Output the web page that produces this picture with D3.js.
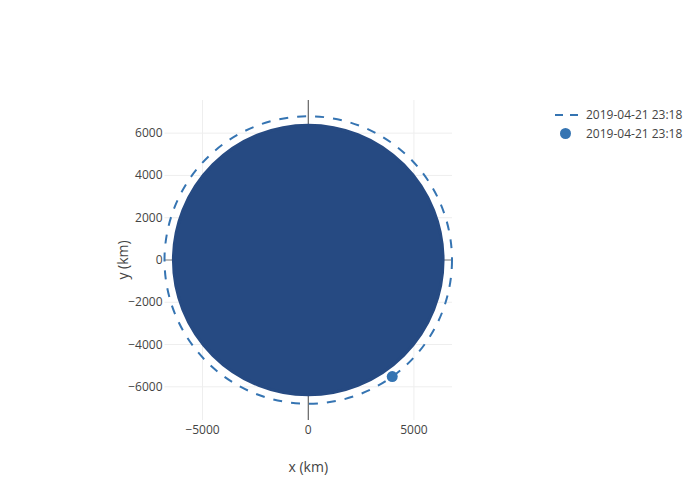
<!DOCTYPE html>
<html>
<head>
<meta charset="utf-8">
<script src="https://cdn.jsdelivr.net/npm/d3@7"></script>
<style>
  body { margin: 0; background: #fff; }
  text { font-family: "Open Sans", sans-serif; fill: #444; }
</style>
</head>
<body>
<div id="chart"></div>
<script>
// valores (km)
const xTicks = [-5000, 0, 5000];
const yTicks = [-6000, -4000, -2000, 0, 2000, 4000, 6000];
const corpoNome = ["Earth"];
const corpoRaio = [6378];
const orbitaLabel = ["2019-04-21 23:18"];
const orbitaRaio = [6800];
const pontoLabel = ["2019-04-21 23:18"];
const pontoX = [3973];
const pontoY = [-5512];

const largura = 700, altura = 500;
const margem = { left: 164.5, top: 100 };
const plotW = 287.5, plotH = 320;

const azul = "#3574b2";
const terra = "#264a82";

const svg = d3.select("#chart").append("svg")
  .attr("width", largura)
  .attr("height", altura);

// escala x cobre exatamente a orbita, y usa a mesma razao km/px
const rMax = d3.max(orbitaRaio);
const x = d3.scaleLinear().domain([-rMax, rMax]).range([margem.left, margem.left + plotW]);
const kmPorPx = (2 * rMax) / plotW;
const yMeio = plotH / 2 * kmPorPx;
const y = d3.scaleLinear().domain([-yMeio, yMeio]).range([margem.top + plotH, margem.top]);

const fmt = v => (v < 0 ? "\u2212" : "") + Math.abs(v);

// grade
const grade = svg.append("g");
grade.selectAll(".gx").data(xTicks.filter(d => d != 0)).enter()
  .append("line")
  .attr("x1", d => x(d)).attr("x2", d => x(d))
  .attr("y1", margem.top).attr("y2", margem.top + plotH)
  .attr("stroke", "#eee").attr("stroke-width", 1);
grade.selectAll(".gy").data(yTicks.filter(d => d != 0)).enter()
  .append("line")
  .attr("x1", margem.left).attr("x2", margem.left + plotW)
  .attr("y1", d => y(d)).attr("y2", d => y(d))
  .attr("stroke", "#eee").attr("stroke-width", 1);

// linhas de zero
svg.append("line")
  .attr("x1", margem.left).attr("x2", margem.left + plotW)
  .attr("y1", y(0)).attr("y2", y(0))
  .attr("stroke", "#777").attr("stroke-width", 1);
svg.append("line")
  .attr("x1", x(0)).attr("x2", x(0))
  .attr("y1", margem.top).attr("y2", margem.top + plotH)
  .attr("stroke", "#444").attr("stroke-width", 1);

// corpo central (com borda da mesma cor)
svg.selectAll(".corpo").data(corpoRaio).enter()
  .append("circle")
  .attr("cx", x(0)).attr("cy", y(0))
  .attr("r", d => x(d) - x(0))
  .attr("fill", terra)
  .attr("stroke", terra)
  .attr("stroke-width", 3);

// orbita tracejada
svg.selectAll(".orbita").data(orbitaRaio).enter()
  .append("circle")
  .attr("cx", x(0)).attr("cy", y(0))
  .attr("r", d => x(d) - x(0))
  .attr("fill", "none")
  .attr("stroke", azul)
  .attr("stroke-width", 2)
  .attr("stroke-dasharray", "9,9");

// posicao atual
svg.selectAll(".ponto").data(pontoX).enter()
  .append("circle")
  .attr("cx", d => x(d))
  .attr("cy", (d, i) => y(pontoY[i]))
  .attr("r", 5.5)
  .attr("fill", azul);

// rotulos dos eixos
svg.selectAll(".tx").data(xTicks).enter()
  .append("text")
  .attr("x", d => x(d))
  .attr("y", 434)
  .attr("text-anchor", "middle")
  .style("font-size", "12px")
  .text(fmt);
svg.selectAll(".ty").data(yTicks).enter()
  .append("text")
  .attr("x", margem.left - 2)
  .attr("y", d => y(d) + 4)
  .attr("text-anchor", "end")
  .style("font-size", "12px")
  .text(fmt);

svg.append("text")
  .attr("x", x(0))
  .attr("y", 472)
  .attr("text-anchor", "middle")
  .style("font-size", "14px")
  .text("x (km)");
svg.append("text")
  .attr("transform", "translate(128," + y(0) + ") rotate(-90)")
  .attr("text-anchor", "middle")
  .style("font-size", "14px")
  .text("y (km)");

// legenda
const leg = svg.append("g").attr("transform", "translate(551,115)");
leg.append("line")
  .attr("x1", 4).attr("x2", 28)
  .attr("y1", 0).attr("y2", 0)
  .attr("stroke", azul).attr("stroke-width", 2)
  .attr("stroke-dasharray", "8,7");
leg.append("text")
  .attr("x", 35).attr("y", 4)
  .style("font-size", "12px")
  .text(orbitaLabel[0]);
leg.append("circle")
  .attr("cx", 14.5).attr("cy", 18.5)
  .attr("r", 5.5)
  .attr("fill", azul);
leg.append("text")
  .attr("x", 35).attr("y", 22.5)
  .style("font-size", "12px")
  .text(pontoLabel[0]);
</script>
</body>
</html>
